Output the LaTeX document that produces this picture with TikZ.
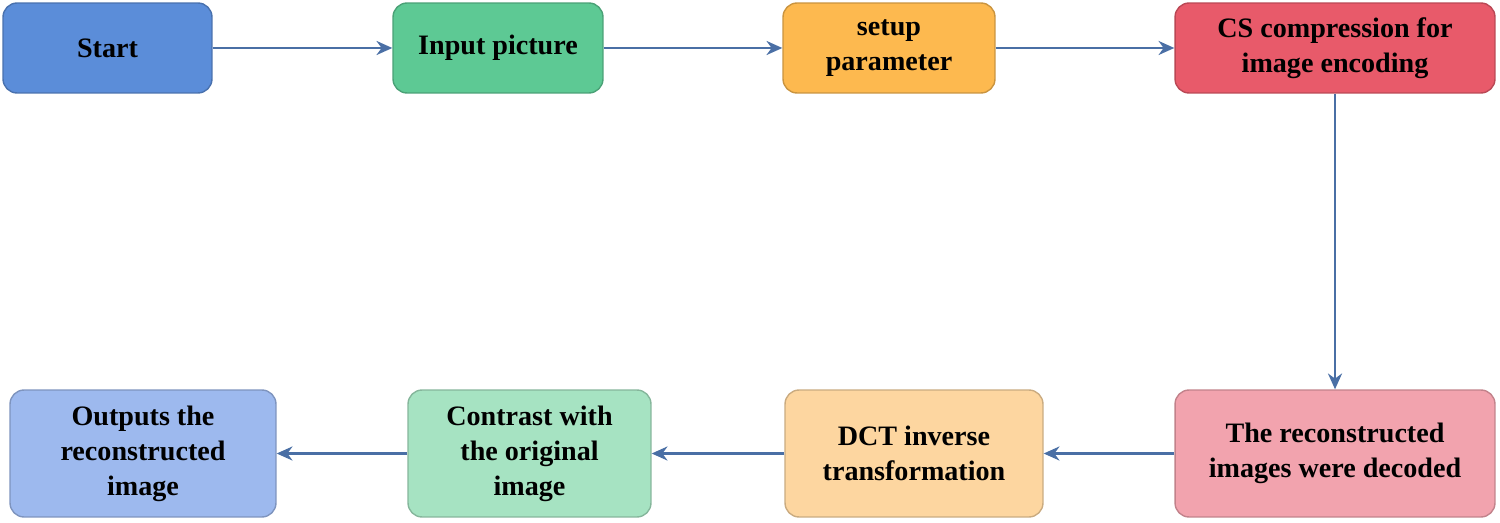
\documentclass[tikz,border=0pt]{standalone}
\usepackage{fontspec}
\setmainfont{Liberation Serif}
\usetikzlibrary{arrows.meta}
\definecolor{cA}{HTML}{5B8DD9}
\definecolor{cB}{HTML}{5DC994}
\definecolor{cC}{HTML}{FDB94F}
\definecolor{cD}{HTML}{E85A6A}
\definecolor{cE}{HTML}{9DB9EE}
\definecolor{cF}{HTML}{A6E3C2}
\definecolor{cG}{HTML}{FDD6A0}
\definecolor{cH}{HTML}{F2A3AE}
\definecolor{arr}{HTML}{4A6FA5}
\tikzset{
 box/.style={draw=#1!80!black, fill=#1, rounded corners=8pt, line width=0.8pt, align=center,
   font=\fontsize{16}{20}\selectfont\bfseries, inner sep=2pt},
 conn/.style={draw=arr, line width=1.4pt, -{Stealth[length=9pt,width=8pt]}}
}
\begin{document}
\begin{tikzpicture}[x=0.02cm,y=-0.02cm]
\useasboundingbox (0,0) rectangle (1500,523);
\node[box=cA, minimum width=4.18cm, minimum height=1.8cm] (s) at (107.5,48) {Start};
\node[box=cB, minimum width=4.2cm, minimum height=1.8cm] (i) at (498,48) {Input picture};
\node[box=cC, minimum width=4.24cm, minimum height=1.8cm] (p) at (889,48) {setup\\parameter};
\node[box=cD, minimum width=6.4cm, minimum height=1.8cm] (c) at (1335,48) {CS compression for\\image encoding};
\node[box=cH, minimum width=6.4cm, minimum height=2.54cm] (r) at (1335,453.5) {The reconstructed\\images were decoded};
\node[box=cG, minimum width=5.16cm, minimum height=2.54cm] (d) at (914,453.5) {DCT inverse\\transformation};
\node[box=cF, minimum width=4.86cm, minimum height=2.54cm] (k) at (529.5,453.5) {Contrast with\\the original\\image};
\node[box=cE, minimum width=5.32cm, minimum height=2.54cm] (o) at (143,453.5) {Outputs the\\reconstructed\\image};
\draw[conn] (s) -- (i);
\draw[conn] (i) -- (p);
\draw[conn] (p) -- (c);
\draw[conn] (c) -- (r);
\draw[conn] (r) -- (d);
\draw[conn] (d) -- (k);
\draw[conn] (k) -- (o);
\end{tikzpicture}
\end{document}
